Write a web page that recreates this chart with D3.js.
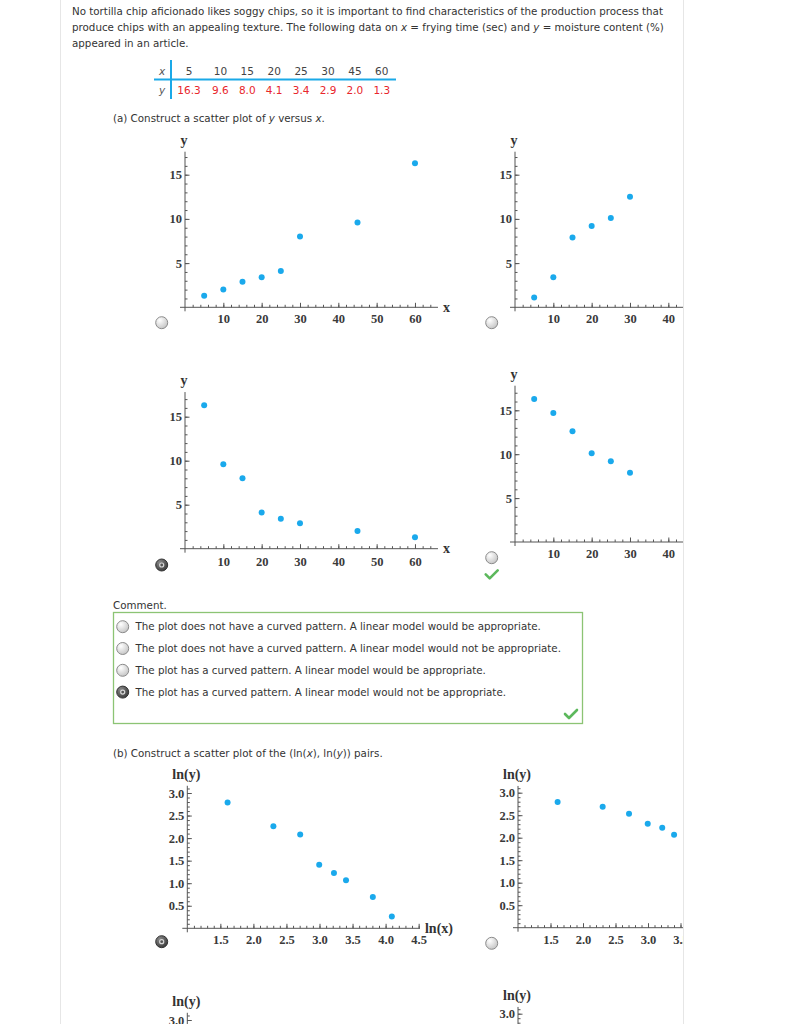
<!DOCTYPE html>
<html><head><meta charset="utf-8">
<script src="https://cdn.jsdelivr.net/npm/d3@7"></script>
<style>body{margin:0;background:#fff;} svg{display:block;}</style>
</head><body>
<svg id="c" width="811" height="1024"></svg>
<script>
// ---------- data ----------
const xValues = [5, 10, 15, 20, 25, 30, 45, 60];
const yValues = [16.3, 9.6, 8.0, 4.1, 3.4, 2.9, 2.0, 1.3];
// answer options for (a)
const optA1Y = [1.3, 2.0, 2.9, 3.4, 4.1, 8.0, 9.6, 16.3];
const optShortX = [5, 10, 15, 20, 25, 30];
const optA2Y = [1.1, 3.4, 7.9, 9.2, 10.1, 12.5];
const optA4Y = [16.3, 14.7, 12.6, 10.1, 9.2, 7.9];
// tick labels
const xTicksWide = [10, 20, 30, 40, 50, 60];
const xTicksNarrow = [10, 20, 30, 40];
const yTicksA = [5, 10, 15];
const lnXTicks = [1.5, 2.0, 2.5, 3.0, 3.5, 4.0, 4.5];
const lnYTicks = [0.5, 1.0, 1.5, 2.0, 2.5, 3.0];
const commentOptions = [
  "The plot does not have a curved pattern. A linear model would be appropriate.",
  "The plot does not have a curved pattern. A linear model would not be appropriate.",
  "The plot has a curved pattern. A linear model would be appropriate.",
  "The plot has a curved pattern. A linear model would not be appropriate."
];
const selectedComment = 3;

// ---------- setup ----------
const svg = d3.select('#c');
const textColor = '#333';
const sans = '"DejaVu Sans", Verdana, sans-serif';
const serif = '"Liberation Serif", "Times New Roman", serif';
const axisColor = '#555';
const pointColor = '#1aa9ec';
const clipX = 683;

const defs = svg.append('defs');
const gOff = defs.append('radialGradient').attr('id', 'radOff').attr('cx', '35%').attr('cy', '30%').attr('r', '75%');
gOff.append('stop').attr('offset', '0%').attr('stop-color', '#ffffff');
gOff.append('stop').attr('offset', '100%').attr('stop-color', '#c4c4c4');
const gOn = defs.append('radialGradient').attr('id', 'radOn').attr('cx', '35%').attr('cy', '30%').attr('r', '75%');
gOn.append('stop').attr('offset', '0%').attr('stop-color', '#8a8a8a');
gOn.append('stop').attr('offset', '100%').attr('stop-color', '#3a3a3a');
defs.append('clipPath').attr('id', 'clipR').append('rect').attr('x', 0).attr('y', 0).attr('width', clipX).attr('height', 1024);

svg.append('rect').attr('width', 811).attr('height', 1024).attr('fill', '#fff');
svg.append('line').attr('x1', 60.5).attr('x2', 60.5).attr('y1', 0).attr('y2', 1024).attr('stroke', '#e6e6e6');
svg.append('line').attr('x1', 683.5).attr('x2', 683.5).attr('y1', 0).attr('y2', 1024).attr('stroke', '#e6e6e6');

function richText(x, y, segs, size) {
  const t = svg.append('text').attr('x', x).attr('y', y).attr('dy', '0.35em')
    .attr('font-family', sans).attr('font-size', size).attr('fill', textColor);
  segs.forEach(s => {
    const ts = t.append('tspan').text(s[0]);
    if (s[1]) ts.attr('font-style', 'italic');
  });
  return t;
}

// header paragraph
const hdr1 = richText(72, 11, [["No tortilla chip aficionado likes soggy chips, so it is important to find characteristics of the production process that"]], 11);
const fs = 11 * 592 / hdr1.node().getComputedTextLength();
hdr1.attr('font-size', fs);
richText(72, 27, [["produce chips with an appealing texture. The following data on "], ["x", 1], [" = frying time (sec) and "], ["y", 1], [" = moisture content (%)"]], fs);
richText(72, 43, [["appeared in an article."]], fs);

// data table
const tbl = svg.append('g');
const colX = i => i === 0 ? 189 : 193.5 + 26.9 * i;
tbl.append('line').attr('x1', 154).attr('x2', 396).attr('y1', 79.5).attr('y2', 79.5).attr('stroke', '#1aa9e8').attr('stroke-width', 2);
tbl.append('line').attr('x1', 171).attr('x2', 171).attr('y1', 60).attr('y2', 99).attr('stroke', '#1aa9e8').attr('stroke-width', 2);
tbl.append('text').attr('x', 162).attr('y', 71).attr('dy', '0.35em').attr('text-anchor', 'middle').attr('font-family', sans).attr('font-style', 'italic').attr('font-size', 10.5).attr('fill', '#555').text('x');
tbl.append('text').attr('x', 162).attr('y', 90).attr('dy', '0.35em').attr('text-anchor', 'middle').attr('font-family', sans).attr('font-style', 'italic').attr('font-size', 10.5).attr('fill', '#555').text('y');
tbl.selectAll('.tx').data(xValues).enter().append('text').attr('x', (d, i) => colX(i)).attr('y', 71).attr('dy', '0.35em')
  .attr('text-anchor', 'middle').attr('font-family', sans).attr('font-size', 10.5).attr('fill', '#444').text(d => d);
tbl.selectAll('.ty').data(yValues).enter().append('text').attr('x', (d, i) => colX(i)).attr('y', 90).attr('dy', '0.35em')
  .attr('text-anchor', 'middle').attr('font-family', sans).attr('font-size', 10.5).attr('fill', '#e8262c').text(d => d.toFixed(1));

richText(113, 118, [["(a) Construct a scatter plot of "], ["y", 1], [" versus "], ["x", 1], ["."]], fs);

// ---------- helpers ----------
function radio(x, y, on) {
  const g = svg.append('g').attr('transform', `translate(${x},${y})`);
  if (on) {
    g.append('circle').attr('r', 6).attr('fill', 'url(#radOn)').attr('stroke', '#333');
    g.append('circle').attr('r', 2.6).attr('fill', '#d8d8d8');
    g.append('circle').attr('r', 1.4).attr('fill', '#555');
  } else {
    g.append('circle').attr('r', 6).attr('fill', 'url(#radOff)').attr('stroke', '#8c8c8c');
  }
}
function check(x, y) {
  svg.append('path').attr('transform', `translate(${x},${y})`).attr('d', 'M-6,0 L-2,4 L6,-4')
    .attr('fill', 'none').attr('stroke', '#5cb85c').attr('stroke-width', 2.6).attr('stroke-linecap', 'round').attr('stroke-linejoin', 'round');
}

function scatter(s) {
  const g = svg.append('g');
  if (s.clip) g.attr('clip-path', 'url(#clipR)');
  const x = d3.scaleLinear().domain(s.xDomain).range([s.ox, s.ox + (s.xDomain[1] - s.xDomain[0]) * s.kx]);
  const y = d3.scaleLinear().domain(s.yDomain).range([s.oy, s.oy - (s.yDomain[1] - s.yDomain[0]) * s.ky]);
  const xEnd = x.range()[1], yTop = y.range()[1];
  g.append('line').attr('x1', s.ox - 5).attr('x2', xEnd).attr('y1', s.oy).attr('y2', s.oy).attr('stroke', axisColor);
  g.append('line').attr('x1', s.ox).attr('x2', s.ox).attr('y1', s.oy + 4).attr('y2', yTop).attr('stroke', axisColor);

  const xm = g.append('g').attr('transform', `translate(0,${s.oy})`)
    .call(d3.axisBottom(x).tickValues(s.xMinor).tickSize(-2.5).tickFormat(''));
  const xM = g.append('g').attr('transform', `translate(0,${s.oy})`)
    .call(d3.axisBottom(x).tickValues(s.xTicks).tickSize(-4.5).tickPadding(s.xPad).tickFormat(s.fmt));
  const ym = g.append('g').attr('transform', `translate(${s.ox},0)`)
    .call(d3.axisLeft(y).tickValues(s.yMinor).tickSize(-2.5).tickFormat(''));
  const yM = g.append('g').attr('transform', `translate(${s.ox},0)`)
    .call(d3.axisLeft(y).tickValues(s.yTicks).tickSize(-4.5).tickPadding(3).tickFormat(s.fmt));
  [xm, xM, ym, yM].forEach(a => {
    a.select('.domain').remove();
    a.selectAll('.tick line').attr('stroke', axisColor);
    a.selectAll('.tick text').attr('font-family', serif).attr('font-weight', 'bold').attr('font-size', 12.5).attr('fill', '#3a3a3a');
  });
  g.append('text').attr('x', s.ox - 1).attr('y', yTop - 12).attr('dy', '0.35em').attr('text-anchor', 'middle')
    .attr('font-family', serif).attr('font-weight', 'bold').attr('font-size', 14).attr('fill', '#333').text(s.yLabel);
  if (s.xLabel && !(s.clip && xEnd + 5 >= clipX)) {
    g.append('text').attr('x', xEnd + 5).attr('y', s.oy).attr('dy', '0.3em').attr('text-anchor', 'start')
      .attr('font-family', serif).attr('font-weight', 'bold').attr('font-size', 14).attr('fill', '#333').text(s.xLabel);
  }
  g.selectAll('.pt').data(s.pts).enter().append('circle')
    .attr('cx', d => x(d[0])).attr('cy', d => y(d[1])).attr('r', 3).attr('fill', pointColor);
}

const fmt0 = d3.format('d'), fmt1 = d3.format('.1f');
const minorX2 = d3.range(2, 66, 2), minorY1 = d3.range(1, 18, 1);
const minorLnX = d3.range(11, 46, 1).map(v => v / 10), minorLnY = d3.range(1, 32, 1).map(v => v / 10);
const zip = (a, b) => a.map((v, i) => [v, b[i]]);

// (a) plots
scatter({ ox: 185, oy: 307.3, kx: 3.833, ky: 8.84, xDomain: [0, 66], yDomain: [0, 17.6],
  xTicks: xTicksWide, yTicks: yTicksA, xMinor: minorX2, yMinor: minorY1, fmt: fmt0, xPad: 7.2,
  xLabel: 'x', yLabel: 'y', pts: zip(xValues, optA1Y) });
scatter({ ox: 515, oy: 307.3, kx: 3.833, ky: 8.84, xDomain: [0, 46], yDomain: [0, 17.6], clip: true,
  xTicks: xTicksNarrow, yTicks: yTicksA, xMinor: minorX2, yMinor: minorY1, fmt: fmt0, xPad: 7.2,
  xLabel: 'x', yLabel: 'y', pts: zip(optShortX, optA2Y) });
scatter({ ox: 185, oy: 548.7, kx: 3.833, ky: 8.8, xDomain: [0, 66], yDomain: [0, 17.8],
  xTicks: xTicksWide, yTicks: yTicksA, xMinor: minorX2, yMinor: minorY1, fmt: fmt0, xPad: 8.2,
  xLabel: 'x', yLabel: 'y', pts: zip(xValues, yValues) });
scatter({ ox: 515, oy: 542, kx: 3.833, ky: 8.78, xDomain: [0, 46], yDomain: [0, 17.8], clip: true,
  xTicks: xTicksNarrow, yTicks: yTicksA, xMinor: minorX2, yMinor: minorY1, fmt: fmt0, xPad: 7.5,
  xLabel: 'x', yLabel: 'y', pts: zip(optShortX, optA4Y) });

radio(161.7, 322.7, false);
radio(491.7, 322.7, false);
radio(161.7, 565, true);
radio(491.7, 557.7, false);
check(491.7, 574.3);

// comment box
richText(113, 605, [["Comment."]], fs);
svg.append('rect').attr('x', 113.5).attr('y', 612.5).attr('width', 469).attr('height', 111)
  .attr('fill', 'none').attr('stroke', '#8cc474').attr('stroke-width', 1.3);
const opt0 = richText(135.5, 626.7, [[commentOptions[0]]], 11);
const fsC = 11 * 406 / opt0.node().getComputedTextLength();
opt0.attr('font-size', fsC);
commentOptions.forEach((c, i) => {
  if (i > 0) richText(135.5, 626.7 + 21.8 * i, [[c]], fsC);
  radio(122.7, 626.7 + 21.8 * i, i === selectedComment);
});
check(571, 714);

// (b)
richText(113, 753, [["(b) Construct a scatter plot of the (ln("], ["x", 1], ["), ln("], ["y", 1], [")) pairs."]], fs);
const ln = a => a.map(v => Math.log(v));
scatter({ ox: 187.3, oy: 928.3, kx: 66.1, ky: 45.1, xDomain: [1, 4.52], yDomain: [0, 3.16],
  xTicks: lnXTicks, yTicks: lnYTicks, xMinor: minorLnX, yMinor: minorLnY, fmt: fmt1, xPad: 7,
  xLabel: 'ln(x)', yLabel: 'ln(y)', pts: zip(ln(xValues), ln(yValues)) });
scatter({ ox: 518, oy: 927.7, kx: 65, ky: 45, xDomain: [1, 3.6], yDomain: [0, 3.15], clip: true,
  xTicks: lnXTicks, yTicks: lnYTicks, xMinor: minorLnX, yMinor: minorLnY, fmt: fmt1, xPad: 7,
  xLabel: 'ln(x)', yLabel: 'ln(y)', pts: zip(ln(optShortX), ln(optA4Y)) });
radio(161.7, 941.7, true);
radio(491.7, 943.3, false);

// further options (continue below the visible page)
scatter({ ox: 187.3, oy: 1155.3, kx: 66.1, ky: 45.1, xDomain: [1, 4.52], yDomain: [0, 3.16],
  xTicks: lnXTicks, yTicks: lnYTicks, xMinor: minorLnX, yMinor: minorLnY, fmt: fmt1, xPad: 7,
  xLabel: 'ln(x)', yLabel: 'ln(y)', pts: [] });
scatter({ ox: 518, oy: 1148.7, kx: 65, ky: 45, xDomain: [1, 3.6], yDomain: [0, 3.15], clip: true,
  xTicks: lnXTicks, yTicks: lnYTicks, xMinor: minorLnX, yMinor: minorLnY, fmt: fmt1, xPad: 7,
  xLabel: 'ln(x)', yLabel: 'ln(y)', pts: [] });

// drop texts that lie entirely below the visible page or beyond the clipped column
svg.selectAll('text').each(function () {
  const r = this.getBoundingClientRect();
  if (r.top > 1024 || r.left >= clipX) d3.select(this).remove();
});
</script>
</body></html>
